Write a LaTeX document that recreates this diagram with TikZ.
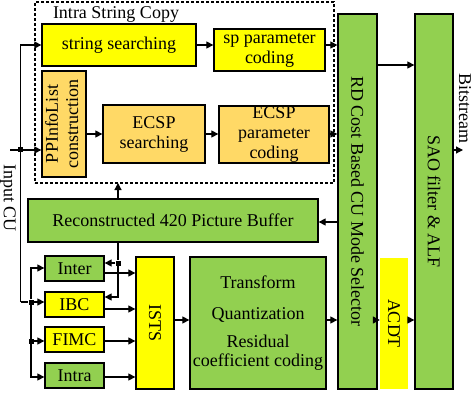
\documentclass[tikz,border=0pt]{standalone}
\usepackage{fontspec}
\setmainfont{Liberation Serif}
\usepackage{graphicx}
\usetikzlibrary{arrows.meta}
\definecolor{cyel}{HTML}{FFFF00}
\definecolor{corg}{HTML}{FFD966}
\definecolor{cgrn}{HTML}{92D050}
\newcommand\bxnode[7]{\node[#6, minimum width={#4-#2}, minimum height={#5-#3}] (#1) at ({(#2+#4)/2},{(#3+#5)/2}) {#7};}
\begin{document}
\begin{tikzpicture}[x=1pt,y=-1pt,
  font=\fontsize{18}{20}\selectfont,
  blk/.style={draw, line width=1.3pt, inner sep=0pt, align=center},
  yel/.style={blk, fill=cyel},
  org/.style={blk, fill=corg},
  grn/.style={blk, fill=cgrn},
  dashbox/.style={draw, line width=1.3pt, dash pattern=on 3pt off 2pt, inner sep=0pt},
  arr/.style={line width=1.2pt, -{Triangle[length=7pt,width=7pt]}},
  ln/.style={line width=1.2pt},
  jdot/.style={fill=black, rectangle, minimum size=5pt, inner sep=0pt}]
\useasboundingbox (0,0) rectangle (474,417);
% dashed group
\bxnode{isc}{35}{2}{334}{183}{dashbox}{}
\node (isclab) at (116,14) {Intra String Copy};
% boxes
\bxnode{ss}{42}{24}{196}{66}{yel}{string searching}
\bxnode{sp}{214}{29}{325}{71}{yel}{sp parameter\\coding}
\bxnode{pp}{42}{71}{86}{177}{org}{\rotatebox{90}{\begin{tabular}{@{}c@{}}PPInfoList\\construction\end{tabular}}}
\bxnode{es}{103}{105}{205}{163}{org}{ECSP\\searching}
\bxnode{ep}{219}{106}{329}{163}{org}{ECSP\\parameter\\coding}
\bxnode{rd}{338}{14}{377}{389}{grn}{\rotatebox{-90}{RD Cost Based CU Mode Selector}}
\bxnode{sao}{415}{14}{453}{389}{grn}{\rotatebox{-90}{SAO filter \& ALF}}
\bxnode{acdt}{380}{258}{408}{389}{inner sep=0pt, fill=cyel}{\rotatebox{-90}{ACDT}}
\bxnode{buf}{28}{199}{318}{242}{grn}{Reconstructed 420 Picture Buffer}
\bxnode{inter}{45}{256}{104}{281}{grn}{Inter}
\bxnode{ibc}{45}{292}{104}{317}{yel}{IBC}
\bxnode{fimc}{45}{327}{104}{352}{yel}{FIMC}
\bxnode{intra}{45}{363}{104}{388}{grn}{Intra}
\bxnode{ists}{136}{257}{174}{389}{yel}{\rotatebox{-90}{ISTS}}
\bxnode{tq}{190}{257}{326}{389}{grn}{Transform\\[11pt]Quantization\\[8pt]Residual\\[-1pt]coefficient coding}
% labels
\node (inlab) at (8,198) {\rotatebox{-90}{Input CU}};
\node (bslab) at (465,108) {\rotatebox{-90}{Bitstream}};
% input connectors
\coordinate (inL) at (10,150);
\node[jdot] (j1) at (20.5,150) {};
\coordinate (vt) at (20.5,45);
\coordinate (vb) at (20.5,302);
\node[jdot] (j2) at (31,302) {};
\node[jdot] (j3) at (31,341) {};
\coordinate (v2t) at (31,268);
\coordinate (v2b) at (31,377);
\draw[ln] (inL) -- (j1);
\draw[arr] (j1) -- (pp.west |- j1);
\draw[arr] (vb) -- (vt) -- (ss.west);
\draw[ln] (vb) -- (j2);
\draw[arr] (j2) -- (ibc.west |- j2);
\draw[arr] (j2) -- (v2t) -- (inter.west |- v2t);
\draw[arr] (j2) -- (v2b) -- (intra.west |- v2b);
\draw[arr] (j3) -- (fimc.west |- j3);
% ISC internal
\draw[arr] (ss.east) -- (sp.west |- ss.east);
\draw[arr] (sp.east |- ss.east) -- (rd.west |- ss.east);
\draw[arr] (pp.east |- es.west) -- (es.west);
\draw[arr] (es.east) -- (ep.west |- es.east);
\draw[arr] (ep.east |- es.east) -- (rd.west |- es.east);
% right side
\draw[arr] (rd.east |- 0,65) -- (sao.west |- 0,65);
\coordinate (bsout) at (463,150);
\draw[arr] (sao.east |- bsout) -- (bsout);
\draw[arr] (rd.west |- 0,222) -- (buf.east |- 0,222);
% buffer
\coordinate (bx) at (118,183);
\draw[arr] (buf.north -| bx) -- (bx);
\node[jdot] (j4) at (118,263) {};
\coordinate (b2) at (118,297);
\draw[ln] (buf.south -| j4) -- (j4);
\draw[arr] (j4) -- (inter.east |- j4);
\draw[arr] (j4) -- (b2) -- (ibc.east |- b2);
% to ISTS
\draw[arr] (inter.east |- 0,273) -- (ists.west |- 0,273);
\draw[arr] (ibc.east |- 0,309) -- (ists.west |- 0,309);
\draw[arr] (fimc.east |- 0,341) -- (ists.west |- 0,341);
\draw[arr] (intra.east |- 0,377) -- (ists.west |- 0,377);
% bottom chain
\draw[arr] (ists.east |- 0,320) -- (tq.west |- 0,320);
\draw[arr] (tq.east |- 0,320) -- (rd.west |- 0,320);
\draw[arr] (rd.east |- 0,320) -- (acdt.west |- 0,320);
\draw[arr] (acdt.east |- 0,320) -- (sao.west |- 0,320);
\end{tikzpicture}
\end{document}
